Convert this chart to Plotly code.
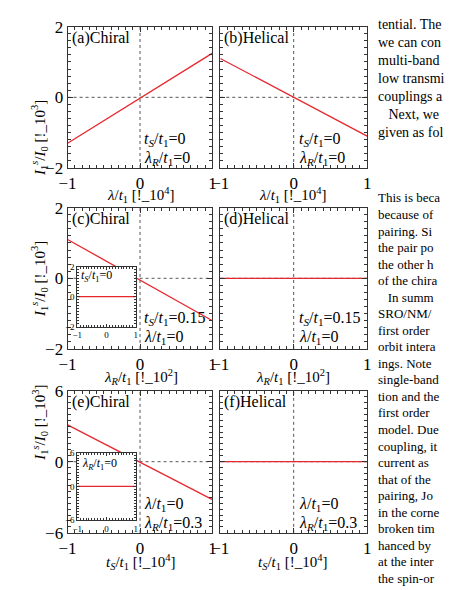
import plotly.graph_objects as go

# x ends of each line (-1, 1) and the y values
x_ends = [-1, 1]
a_vals = [-1.3, 1.25]
b_vals = [1.1, -1.1]
c_vals = [1.1, -1.2]
d_vals = [0, 0]
e_vals = [3.1, -3.2]
f_vals = [0, 0]
inset_vals = [0, 0]

W, H = 474, 590
FONT = "Liberation Serif"
RED = "#e8262e"


def px(x0, x1, y0, y1):
    return [x0 / W, x1 / W], [1 - y1 / H, 1 - y0 / H]


fig = go.Figure()
layout = dict(width=W, height=H, margin=dict(l=0, r=0, t=0, b=0),
              plot_bgcolor="white", paper_bgcolor="white", showlegend=False,
              font=dict(family=FONT, color="black"))

# (name, values, x-domain px, y-domain px, y half range, y ticks)
panels = [
    ("a", a_vals, (52, 201), (10, 156), 2, [-2, 0, 2]),
    ("b", b_vals, (209, 360), (10, 156), 2, [-2, 0, 2]),
    ("c", c_vals, (52, 201), (197, 343), 2, [-2, 0, 2]),
    ("d", d_vals, (209, 360), (197, 343), 2, [-2, 0, 2]),
    ("e", e_vals, (52, 201), (386, 533), 6, [-6, 0, 6]),
    ("f", f_vals, (209, 360), (386, 533), 6, [-6, 0, 6]),
    ("ci", inset_vals, (62, 122), (258, 320), 2, [-2, 0, 2]),
    ("ei", inset_vals, (62, 122), (450, 520), 6, [-6, 0, 6]),
]

for i, (name, vals, xd, yd, yr, yt) in enumerate(panels, start=1):
    xdom, ydom = px(xd[0], xd[1], yd[0], yd[1])
    inset = name.endswith("i")
    left = name in ("a", "c", "e")
    fs = 9 if inset else 17
    sfx = "" if i == 1 else str(i)
    common = dict(showline=True, linecolor="#333", linewidth=1, mirror="ticks",
                  ticks="inside", ticklen=3 if inset else 5, tickcolor="#333",
                  showgrid=False, zeroline=False,
                  minor=dict(ticks="inside", ticklen=2 if inset else 3, tickcolor="#333", nticks=5),
                  tickfont=dict(family=FONT, size=fs))
    layout["xaxis" + sfx] = dict(common, domain=xdom, range=[-1, 1], tickvals=[-1, 0, 1],
                                 ticktext=["−1", "0", "1"], anchor="y" + sfx)
    layout["yaxis" + sfx] = dict(common, domain=ydom, range=[-yr, yr], tickvals=yt,
                                 ticktext=[("−" + str(yr)), "0", str(yr)],
                                 showticklabels=left or inset, anchor="x" + sfx)
    fig.add_trace(go.Scatter(x=x_ends, y=vals, mode="lines", line=dict(color=RED, width=1.3),
                             xaxis="x" + sfx, yaxis="y" + sfx))
    if not inset:
        xr, yr_ = "x" + sfx, "y" + sfx
        fig.add_shape(type="line", xref=xr, yref=yr_ + " domain", x0=0, x1=0, y0=0, y1=1,
                      line=dict(color="#555", width=1, dash="3px,3px"), layer="below")
        fig.add_shape(type="line", xref=xr + " domain", yref=yr_, x0=0, x1=1, y0=0, y1=0,
                      line=dict(color="#555", width=1, dash="3px,3px"), layer="below")

fig.update_layout(**layout)
# insets sit above the main panel: white background box
for xd, yd in [((62, 122), (258, 320)), ((62, 122), (450, 520))]:
    fig.add_shape(type="rect", xref="paper", yref="paper",
                  x0=xd[0] / W, x1=xd[1] / W, y0=1 - yd[1] / H, y1=1 - yd[0] / H,
                  fillcolor="white", line=dict(width=0), layer="below")


def text(x, y, s, size=16, anchor="left"):
    fig.add_annotation(x=x / W, y=1 - y / H, xref="paper", yref="paper", text=s,
                       showarrow=False, xanchor=anchor, yanchor="middle",
                       font=dict(family=FONT, size=size, color="black"))


titles = [(54, 22, "(a)Chiral"), (211, 22, "(b)Helical"), (54, 209, "(c)Chiral"),
          (211, 209, "(d)Helical"), (54, 398, "(e)Chiral"), (211, 398, "(f)Helical")]
for x, y, s in titles:
    text(x, y, s)

ts = "<i>t</i><sub><i>S</i></sub>/<i>t</i><sub>1</sub>"
lr = "<i>λ</i><sub><i>R</i></sub>/<i>t</i><sub>1</sub>"
lm = "<i>λ</i>/<i>t</i><sub>1</sub>"
for x0 in (129, 288):
    text(x0, 127, ts + "=0")
    text(x0, 146, lr + "=0")
    text(x0, 312, ts + "=0.15")
    text(x0, 331, lm + "=0")
    text(x0, 504, lm + "=0")
    text(x0, 523, lr + "=0.3")
text(64, 268, ts + "=0", size=12)
text(65, 462, lr + "=0", size=12)

for x0 in (128, 284):
    text(x0, 184, lm + " [!_10<sup>4</sup>]", size=15, anchor="center")
    text(x0, 372, lr + " [!_10<sup>2</sup>]", size=15, anchor="center")
    text(x0, 563, ts + " [!_10<sup>4</sup>]", size=15, anchor="center")

ylab = "<i>I</i><sub>1</sub><sup><i>s</i></sup>/<i>I</i><sub>0</sub> [!_10<sup>3</sup>]"
for yc in (84, 271, 461):
    fig.add_annotation(x=11 / W, y=1 - yc / H, xref="paper", yref="paper", text=ylab,
                       textangle=-90, showarrow=False,
                       font=dict(family=FONT, size=15, color="black"))

# cropped page text on the right
top_lines = ["tential. The", "we can con", "multi-band", "low transmi", "couplings a",
             "   Next, we", "given as fol"]
bottom_lines = ["This is beca", "because of", "pairing. Si", "the pair po", "the other h",
                "of the chira", "   In summ", "SRO/NM/", "first order", "orbit intera",
                "ings. Note", "single-band", "tion and the", "first order", "model. Due",
                "coupling, it", "current as", "that of the", "pairing, Jo", "in the corne",
                "broken tim", "hanced by", "at the inter", "the spin-or"]
for k, s in enumerate(top_lines):
    text(369, 8 + k * 18.5, s, size=14)
step = (580 - 187) / (len(bottom_lines) - 1)
for k, s in enumerate(bottom_lines):
    text(369, 187 + k * step, s, size=13)

fig.write_html("out.html")
